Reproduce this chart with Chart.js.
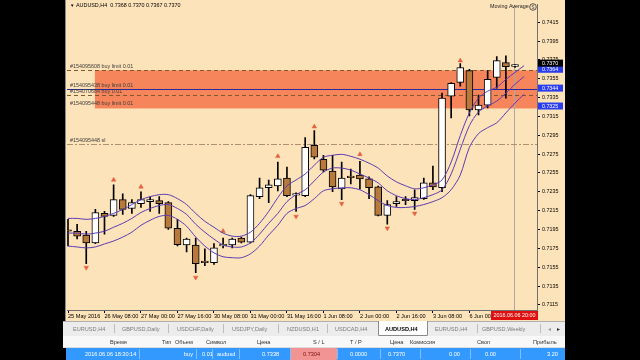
<!DOCTYPE html>
<html><head><meta charset="utf-8">
<script src="https://cdn.jsdelivr.net/npm/chart.js@4"></script>
<style>
html,body{margin:0;padding:0;background:#000;width:640px;height:360px;overflow:hidden}
canvas{position:absolute;left:0;top:0}
</style></head>
<body>
<canvas id="c" width="640" height="360"></canvas>
<script>
// ---------- data ----------
const timeTickIdx = [0,4,8,12,16,20,24,28,32,36,40,44];
const timeLabels = ['25 May 2016','26 May 08:00','27 May 00:00','27 May 16:00','30 May 08:00','31 May 00:00','31 May 16:00','1 Jun 08:00','2 Jun 00:00','2 Jun 16:00','3 Jun 08:00','6 Jun 00:00'];
const currentBarLabel = '2016.06.06 20:00';
const priceTicks = [0.7115,0.7135,0.7155,0.7175,0.7195,0.7215,0.7235,0.7255,0.7275,0.7295,0.7315,0.7335,0.7355,0.7375,0.7395,0.7415];

const opens  = [0.71943,0.71932,0.71890,0.71807,0.72121,0.72100,0.72267,0.72173,0.72225,0.72246,0.72257,0.72236,0.71964,0.71786,0.71786,0.71608,0.71598,0.71776,0.71786,0.71859,0.71817,0.72299,0.72393,0.72414,0.72497,0.72315,0.72309,0.72843,0.72696,0.72571,0.72382,0.72508,0.72529,0.72487,0.72403,0.72100,0.72225,0.72260,0.72257,0.72278,0.72445,0.72393,0.73366,0.73512,0.73637,0.73219,0.73271,0.73564,0.73721,0.7368];
const highs  = [0.72058,0.72006,0.71932,0.72163,0.72142,0.72424,0.72330,0.72267,0.72351,0.72299,0.72299,0.72246,0.72058,0.71860,0.71859,0.71744,0.71800,0.71859,0.71859,0.71870,0.72320,0.72497,0.72476,0.72665,0.72612,0.72340,0.72926,0.72999,0.72738,0.72738,0.72665,0.72591,0.72675,0.72508,0.72410,0.72257,0.72299,0.72299,0.72372,0.72497,0.72623,0.73397,0.73510,0.73711,0.73650,0.73376,0.73637,0.73784,0.73794,0.7370];
const lows   = [0.71776,0.71849,0.71587,0.71800,0.71901,0.72090,0.72110,0.72121,0.72184,0.72142,0.72121,0.71950,0.71776,0.71713,0.71493,0.71566,0.71580,0.71755,0.71755,0.71807,0.71807,0.72278,0.72236,0.72361,0.72299,0.72142,0.72299,0.72700,0.72560,0.72351,0.72267,0.72435,0.72382,0.72278,0.72095,0.72006,0.72194,0.72215,0.72163,0.72270,0.72372,0.72351,0.73135,0.73470,0.73156,0.73167,0.73240,0.73449,0.73345,0.7367];
const closes = [0.71932,0.71880,0.71807,0.72131,0.72089,0.72267,0.72163,0.72236,0.72267,0.72267,0.72225,0.71964,0.71790,0.71849,0.71587,0.71598,0.71755,0.71790,0.71849,0.71817,0.72309,0.72393,0.72424,0.72487,0.72309,0.72325,0.72822,0.72717,0.72581,0.72403,0.72497,0.72500,0.72487,0.72393,0.72100,0.72215,0.72246,0.72255,0.72288,0.72445,0.72403,0.73345,0.73501,0.73669,0.73219,0.73271,0.73543,0.73742,0.73679,0.7370];

const maUpper = [0.72068,0.72068,0.72058,0.72068,0.72089,0.72121,0.72163,0.72215,0.72267,0.72299,0.72320,0.72320,0.72278,0.72215,0.72121,0.72037,0.71974,0.71912,0.71880,0.71880,0.71922,0.72016,0.72142,0.72288,0.72414,0.72476,0.72539,0.72633,0.72717,0.72738,0.72748,0.72727,0.72696,0.72654,0.72602,0.72518,0.72456,0.72414,0.72382,0.72393,0.72424,0.72476,0.72665,0.72947,0.73188,0.73345,0.73418,0.73460,0.73543,0.73617,0.73689];
const maMid   = [0.71912,0.71912,0.71901,0.71912,0.71932,0.71974,0.72016,0.72068,0.72131,0.72173,0.72205,0.72215,0.72173,0.72110,0.72006,0.71922,0.71849,0.71786,0.71765,0.71765,0.71807,0.71901,0.72016,0.72121,0.72246,0.72320,0.72372,0.72466,0.72560,0.72602,0.72602,0.72581,0.72539,0.72497,0.72445,0.72361,0.72309,0.72278,0.72267,0.72288,0.72320,0.72372,0.72539,0.72801,0.73052,0.73198,0.73261,0.73313,0.73397,0.73491,0.73575];
const maLower = [0.71775,0.71765,0.71755,0.71765,0.71797,0.71828,0.71870,0.71922,0.71995,0.72048,0.72089,0.72100,0.72058,0.71985,0.71870,0.71775,0.71703,0.71661,0.71651,0.71651,0.71692,0.71775,0.71891,0.71995,0.72121,0.72173,0.72205,0.72278,0.72361,0.72382,0.72393,0.72393,0.72372,0.72320,0.72257,0.72205,0.72184,0.72184,0.72194,0.72215,0.72246,0.72288,0.72372,0.72529,0.72822,0.72968,0.73031,0.73083,0.73188,0.73292,0.73386];

const fracUpIdx = [5,8,17,23,27,32,43];
const fracUpVal = [0.72476,0.72403,0.71932,0.72727,0.73041,0.72748,0.73742];
const fracDnIdx = [2,14,25,30,35,38];
const fracDnVal = [0.71546,0.71441,0.72089,0.72225,0.71964,0.72121];

const orderLevels = [0.7364,0.7344,0.7338,0.7325,0.7286];
const orderLabels = ['#154095608 buy limit 0.01','#154095438 buy limit 0.01','#154070684 buy 0.01','#154095448 buy limit 0.01','#154095448 sl'];
const bandTop = 0.7364, bandBottom = 0.73235, bandStartIdx = 3;
const axisBoxValues = [0.7364,0.7344,0.7325];

const tabNames = ['EURUSD,H4','GBPUSD,Daily','USDCHF,Daily','USDJPY,Daily','NZDUSD,H1','USDCAD,H4','AUDUSD,H4','EURUSD,H4','GBPUSD,Weekly'];
const activeTab = 6;
const tableHeaders = ['Время','Тип','Объем','Символ','Цена','S / L','T / P','Цена','Комиссия','Своп','Прибыль'];
const tableRow = ['2016.06.06 18:30:14','buy','0.01','audusd','0.7338','0.7304','0.0000','0.7370','0.00','0.00','3.20'];

// ---------- layout helpers ----------
const FONT = '"Liberation Sans", Arial, sans-serif';
const lastIdx = closes.length - 1;
const f4 = v => v.toFixed(4);

function text(ctx, s, x, y, size, color, align, bold){
  ctx.font = (bold ? 'bold ' : '') + size + 'px ' + FONT;
  ctx.fillStyle = color; ctx.textAlign = align || 'left'; ctx.textBaseline = 'middle';
  ctx.fillText(s, x, y);
}

const chrome = {
  id: 'chrome',
  beforeDraw(chart){
    const ctx = chart.ctx;
    ctx.save();
    ctx.fillStyle = '#000'; ctx.fillRect(0,0,640,360);
    ctx.fillStyle = '#fde3b9'; ctx.fillRect(66,0,499,322);
    ctx.fillStyle = '#8a8a8a'; ctx.fillRect(65,0,1,322);
    ctx.restore();
  },
  beforeDatasetsDraw(chart){
    const {ctx, chartArea:a, scales:{x,y}} = chart;
    ctx.save();
    ctx.beginPath(); ctx.rect(a.left,a.top,a.right-a.left,a.bottom-a.top); ctx.clip();
    // pending-order zone
    const bx = x.getPixelForValue(bandStartIdx) - 0.5;
    const t = y.getPixelForValue(bandTop), b = y.getPixelForValue(bandBottom);
    ctx.fillStyle = '#f7855b';
    ctx.fillRect(bx, t, a.right - bx, b - t);
    // current bar vertical line
    const vx = Math.round(x.getPixelForValue(lastIdx)) - 0.5;
    ctx.strokeStyle = '#a8a8a8'; ctx.lineWidth = 1; ctx.setLineDash([]);
    ctx.beginPath(); ctx.moveTo(vx,a.top); ctx.lineTo(vx,a.bottom); ctx.stroke();
    // order lines
    const styles = [
      {c:'#7d5a2e', d:[4,3]}, {c:'#2a2aa0', d:[]}, {c:'#7d5a2e', d:[4,3]}, null, {c:'#b09070', d:[6,2,2,2]}
    ];
    orderLevels.forEach((lv,k)=>{
      const py = Math.round(y.getPixelForValue(lv)) + 0.5;
      const s = styles[k];
      if (s){
        ctx.strokeStyle = s.c; ctx.setLineDash(s.d);
        ctx.beginPath(); ctx.moveTo(a.left,py); ctx.lineTo(a.right,py); ctx.stroke();
      }
      text(ctx, orderLabels[k], a.left + 3, py - 4, 5.4, '#3c3c3c');
    });
    ctx.restore();
  },
  afterDraw(chart){
    const {ctx, chartArea:a, scales:{x,y}} = chart;
    ctx.save();
    ctx.setLineDash([]);
    // header
    text(ctx, '\u25BC', 70, 6, 4.5, '#000');
    text(ctx, 'AUDUSD,H4  ' + [opens[lastIdx],highs[lastIdx],lows[lastIdx],closes[lastIdx]].map(f4).join(' '), 76, 6, 5.4, '#000');
    text(ctx, 'Moving Average', 490, 7, 5.4, '#222');
    ctx.strokeStyle = '#333'; ctx.lineWidth = 0.8;
    ctx.beginPath(); ctx.arc(533, 7, 3.3, 0, Math.PI*2); ctx.stroke();
    text(ctx, 'S', 533, 7.3, 4.5, '#333', 'center');
    // price boxes on axis
    const bx0 = a.right + 1, bw = 25, bh = 7;
    axisBoxValues.forEach(v=>{
      const py = y.getPixelForValue(v) - 1;
      ctx.fillStyle = '#2a3df0'; ctx.fillRect(bx0, py - bh/2, bw, bh);
      text(ctx, f4(v), bx0 + 4, py + 0.3, 5.3, '#fff');
    });
    const cp = y.getPixelForValue(closes[lastIdx]) - 1.5;
    ctx.fillStyle = '#000'; ctx.fillRect(bx0, cp - bh/2, bw, bh);
    text(ctx, f4(closes[lastIdx]), bx0 + 4, cp + 0.3, 5.3, '#fff');
    // current time box
    const tx = x.getPixelForValue(lastIdx);
    ctx.fillStyle = '#e01010'; ctx.fillRect(tx - 24, a.bottom + 1, 47, 9);
    text(ctx, currentBarLabel, tx - 0.5, a.bottom + 5.5, 5.4, '#fff', 'center');
    // tabs bar
    ctx.fillStyle = '#ececec'; ctx.fillRect(63, 322, 502, 14);
    ctx.fillStyle = '#b0b0b0'; ctx.fillRect(63, 321, 502, 1);
    const tabX = [73,122,177,232,287,335,385,435,482];
    const sepX = [114,168,223,278,327,378,428,477,540];
    ctx.fillStyle = '#fff'; ctx.fillRect(378, 321, 50, 15);
    ctx.strokeStyle = '#8a8a8a'; ctx.lineWidth = 1;
    ctx.beginPath(); ctx.moveTo(378.5,321); ctx.lineTo(378.5,335.5); ctx.lineTo(427.5,335.5); ctx.lineTo(427.5,321); ctx.stroke();
    tabNames.forEach((n,k)=>{
      text(ctx, n, tabX[k], 329, 5.6, k===activeTab ? '#000' : '#7c7c7c', 'left', k===activeTab);
    });
    ctx.fillStyle = '#bdbdbd';
    sepX.forEach((sx,k)=>{ if (k!==5 && k!==6) ctx.fillRect(sx, 324, 1, 9); });
    text(ctx, '\u25C2', 548, 329, 6, '#9a9a9a');
    text(ctx, '\u25B8', 557, 329, 6, '#333');
    // table header
    ctx.fillStyle = '#f8f8f8'; ctx.fillRect(63, 336, 502, 12);
    ctx.fillStyle = '#dcdcdc'; ctx.fillRect(63, 347, 502, 1);
    const hx = [110,162,175,206,257,313,350,390,410,477,533];
    tableHeaders.forEach((h,k)=> text(ctx, h, hx[k], 342, 5.6, '#333'));
    // table row
    ctx.fillStyle = '#3399ff'; ctx.fillRect(66, 348, 499, 12);
    ctx.fillStyle = '#f29494'; ctx.fillRect(290, 348, 47, 12);
    ctx.fillStyle = '#7fbfff';
    [139,196,212,239,290,337,380,420,470,520].forEach(sx=>ctx.fillRect(sx,349,1,10));
    const rx = [85,184,202,217,262,303,350,388,449,485,547];
    tableRow.forEach((s,k)=> text(ctx, s, rx[k], 354.5, 5.6, k===5 ? '#7a1010' : '#fff'));
    ctx.restore();
  }
};

const maColor = '#5a3cb4';
const lineDs = (arr,label) => ({type:'line', label, data: arr.map((v,i)=>({x:i,y:v})), borderColor: maColor, borderWidth: 1, pointRadius: 0, tension: 0.3, fill:false, order: 0});

new Chart(document.getElementById('c'), {
  type: 'bar',
  data: { datasets: [
    lineDs(maUpper,'MA upper'), lineDs(maMid,'MA'), lineDs(maLower,'MA lower'),
    {type:'line', label:'fractal up', data: fracUpIdx.map((i,k)=>({x:i,y:fracUpVal[k]})), showLine:false, pointStyle:'triangle', pointRadius:2.6, backgroundColor:'#e5603f', borderColor:'#e5603f', borderWidth:0.5, order:0},
    {type:'line', label:'fractal down', data: fracDnIdx.map((i,k)=>({x:i,y:fracDnVal[k]})), showLine:false, pointStyle:'triangle', rotation:180, pointRadius:2.6, backgroundColor:'#e5603f', borderColor:'#e5603f', borderWidth:0.5, order:0},
    {type:'bar', label:'wicks', data: highs.map((h,i)=>({x:i, y:[lows[i], h]})), backgroundColor:'#000', barThickness:1, grouped:false, order:2},
    {type:'bar', label:'bodies', data: opens.map((o,i)=>({x:i, y:[Math.min(o,closes[i]), Math.max(o,closes[i])]})),
      backgroundColor: opens.map((o,i)=> closes[i] >= o ? '#ffffff' : '#b87a3c'),
      borderColor:'#000', borderWidth:1, borderSkipped:false, barThickness:7, grouped:false, minBarLength:1.5, order:1}
  ]},
  options: {
    responsive:false, animation:false, devicePixelRatio:1,
    layout:{padding:{left:67, right:75, top:0, bottom:38}},
    plugins:{legend:{display:false}, tooltip:{enabled:false}},
    scales:{
      x:{type:'linear', min:-0.11, max:51.41, offset:false,
        afterBuildTicks: s => { s.ticks = timeTickIdx.map(v=>({value:v})); },
        afterFit: s => { s.height = 12; s.paddingLeft = 0; s.paddingRight = 0; },
        ticks:{callback:(v,i)=>timeLabels[i], align:'start', maxRotation:0, minRotation:0, autoSkip:false, padding:0, color:'#000', font:{size:5.6, family:FONT}},
        grid:{display:true, drawOnChartArea:false, drawTicks:true, tickLength:3, color:'#000', offset:false},
        border:{display:true, color:'#707070'}},
      y:{type:'linear', position:'right', min:0.71096, max:0.74338, beginAtZero:false,
        afterBuildTicks: s => { s.ticks = priceTicks.map(v=>({value:v})); },
        afterFit: s => { s.width = 28; s.paddingTop = 0; s.paddingBottom = 0; },
        ticks:{callback: v => v.toFixed(4), padding:2, color:'#000', font:{size:5.4, family:FONT}},
        grid:{display:true, drawOnChartArea:false, drawTicks:true, tickLength:3, color:'#000'},
        border:{display:true, color:'#707070'}}
    }
  },
  plugins:[chrome]
});
</script>
</body></html>
